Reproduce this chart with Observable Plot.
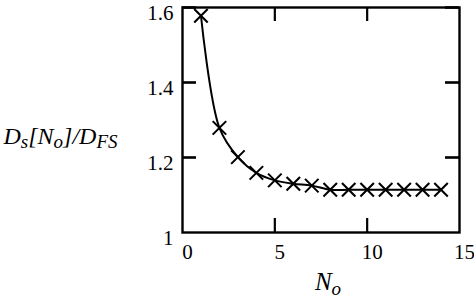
<!DOCTYPE html>
<html>
<head>
<meta charset="utf-8">
<script src="https://cdn.jsdelivr.net/npm/d3@7"></script>
<script src="https://cdn.jsdelivr.net/npm/@observablehq/plot@0.6"></script>
<style>
  html, body { margin: 0; padding: 0; background: #fff; }
  svg, svg text { font-family: "Liberation Serif", "Times New Roman", serif !important; }
</style>
</head>
<body>
<div id="chart"></div>
<script>
// Data
const No = [1, 2, 3, 4, 5, 6, 7, 8, 9, 10, 11, 12, 13, 14];
const ratio = [1.578, 1.279, 1.201, 1.159, 1.139, 1.130, 1.125, 1.114, 1.114, 1.114, 1.114, 1.114, 1.114, 1.114];
const xTickLabels = [0, 5, 10, 15];
const yTickLabels = [1, 1.2, 1.4, 1.6];
const xInnerTicks = [5, 10];
const yInnerTicks = [1.2, 1.4, 1.6];
// axis label parts: [text, isSubscript]
const yLabelParts = [["D", false], ["s", true], ["[N", false], ["o", true], ["]/D", false], ["FS", true]];
const xLabelParts = [["N", false], ["o", true]];

const data = No.map((n, i) => ({n, r: ratio[i]}));
const FONT = "'Liberation Serif', 'Times New Roman', serif";

const W = 474, H = 303;
const mL = 182, mR = 15, mT = 7, mB = 71;
const innerW = W - mL - mR, innerH = H - mT - mB;
const tickLen = 14;

const chart = Plot.plot({
  width: W,
  height: H,
  marginLeft: mL,
  marginRight: mR,
  marginTop: mT,
  marginBottom: mB,
  style: {fontFamily: FONT, background: "#fff", color: "#000"},
  x: {domain: [0, 15]},
  y: {domain: [1, 1.6]},
  marks: [
    Plot.axisX({ticks: xTickLabels, tickSize: 0, tickPadding: 12, fontSize: 21, fontFamily: FONT, dx: 5, label: null, tickFormat: d => String(d)}),
    Plot.axisY({ticks: yTickLabels, tickSize: 0, tickPadding: 9, fontSize: 21, fontFamily: FONT, dy: 6, label: null, tickFormat: d => String(d)}),
    Plot.tickX(xInnerTicks, {x: d => d, insetTop: innerH - tickLen, strokeWidth: 2.2}),
    Plot.tickX(xInnerTicks, {x: d => d, insetBottom: innerH - tickLen, strokeWidth: 2.2}),
    Plot.tickY(yInnerTicks, {y: d => d, insetRight: innerW - tickLen, strokeWidth: 2.6}),
    Plot.tickY(yInnerTicks, {y: d => d, insetLeft: innerW - tickLen, strokeWidth: 2.6}),
    Plot.frame({stroke: "#000", strokeWidth: 2.4}),
    Plot.line(data, {x: "n", y: "r", stroke: "#000", strokeWidth: 2, curve: "catmull-rom"}),
    Plot.dot(data, {x: "n", y: "r", symbol: "times", r: 6.2, stroke: "#000", strokeWidth: 2.1}),
    Plot.text(["ylabel"], {frameAnchor: "left", text: d => d, dx: -179, dy: 16, textAnchor: "start", fontSize: 24, fontFamily: FONT, fontStyle: "italic", className: "ylab"}),
    Plot.text(["xlabel"], {frameAnchor: "bottom", text: d => d, dx: 7, dy: 57, textAnchor: "middle", fontSize: 25, fontFamily: FONT, fontStyle: "italic", className: "xlab"})
  ]
});

document.getElementById("chart").appendChild(chart);

function setParts(sel, parts, subSize, shift) {
  d3.select(chart).selectAll(sel + " text").each(function() {
    const t = d3.select(this);
    t.text(null);
    let down = false;
    parts.forEach(([s, sub]) => {
      const sp = t.append("tspan").text(s);
      if (sub && !down) { sp.attr("dy", shift).attr("font-size", subSize); down = true; }
      else if (sub) { sp.attr("font-size", subSize); }
      else if (!sub && down) { sp.attr("dy", -shift); down = false; }
    });
  });
}
setParts(".ylab", yLabelParts, 19, 4);
setParts(".xlab", xLabelParts, 19, 5);
</script>
</body>
</html>
